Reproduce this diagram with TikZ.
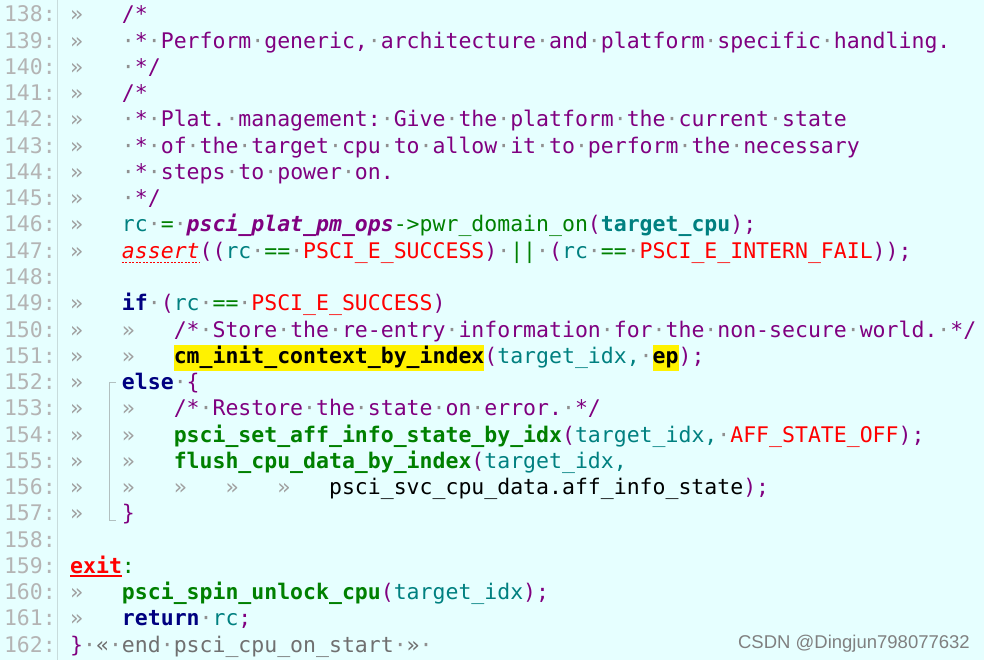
\documentclass[tikz,border=0pt]{standalone}
\usepackage{fontspec}
\setmonofont{DejaVu Sans Mono}
\newfontfamily\wmfont{Liberation Sans}
\definecolor{bgc}{HTML}{E6FFFF}
\definecolor{cmt}{HTML}{800080}
\definecolor{idc}{HTML}{008080}
\definecolor{fnc}{HTML}{008000}
\definecolor{kwc}{HTML}{000080}
\definecolor{csc}{HTML}{FF0000}
\definecolor{dotc}{HTML}{909090}
\definecolor{tabc}{HTML}{A0A0A0}
\definecolor{numc}{HTML}{B4B4B4}
\definecolor{foldc}{HTML}{707070}
\definecolor{gutc}{HTML}{C8DCDC}
\newcommand\Sq{\hphantom{0}}
\newcommand\D{{\color{dotc}·}}
\newcommand\T{{\color{tabc}»}\Sq\Sq\Sq}
\newcommand\cm[1]{{\color{cmt}#1}}
\newcommand\id[1]{{\color{idc}#1}}
\newcommand\op[1]{{\color{fnc}#1}}
\newcommand\fn[1]{{\color{fnc}\bfseries #1}}
\newcommand\kw[1]{{\color{kwc}\bfseries #1}}
\newcommand\cs[1]{{\color{csc}#1}}
\newcommand\pp[1]{{\color{cmt}#1}}
\newcommand\hl[1]{{\setlength\fboxsep{0pt}\colorbox{yellow}{\strut #1}}}
\newcommand\Ln[2]{\node[code] (l#1) at (70,{22+26.25*(#1-138)}) {#2};}
\begin{document}
\begin{tikzpicture}[x=1pt,y=-1pt,
  code/.style={anchor=base west,inner sep=0pt,font=\ttfamily\fontsize{21.5}{25.8}\selectfont},
  lnum/.style={anchor=base east,inner sep=0pt,text=numc,font=\ttfamily\fontsize{21.5}{25.8}\selectfont}]
\fill[bgc] (0,0) rectangle (984,660);
\useasboundingbox (0,0) rectangle (984,660);
\draw[gutc,line width=1pt] (57,0) -- (57,660);
\foreach \n [count=\i from 0] in {138,...,162}{
  \node[lnum] (n\n) at (56,{22+26.25*\i}) {\n:};
}
\Ln{138}{\T\cm{/*}}
\Ln{139}{\T\cm{\D*\D Perform\D generic,\D architecture\D and\D platform\D specific\D handling.}}
\Ln{140}{\T\cm{\D*/}}
\Ln{141}{\T\cm{/*}}
\Ln{142}{\T\cm{\D*\D Plat.\D management:\D Give\D the\D platform\D the\D current\D state}}
\Ln{143}{\T\cm{\D*\D of\D the\D target\D cpu\D to\D allow\D it\D to\D perform\D the\D necessary}}
\Ln{144}{\T\cm{\D*\D steps\D to\D power\D on.}}
\Ln{145}{\T\cm{\D*/}}
\Ln{146}{\T\id{rc}\D\op{=}\D{\color{cmt}\bfseries\itshape psci\_plat\_pm\_ops}\op{->pwr\_domain\_on}\pp{(}{\color{idc}\bfseries target\_cpu}\pp{);}}
\Ln{147}{\T{\color{csc}\itshape assert}\pp{((}\id{rc}\D\op{==}\D\cs{PSCI\_E\_SUCCESS}\pp{)}\D\op{||}\D\pp{(}\id{rc}\D\op{==}\D\cs{PSCI\_E\_INTERN\_FAIL}\pp{));}}
\Ln{149}{\T\kw{if}\D\pp{(}\id{rc}\D\op{==}\D\cs{PSCI\_E\_SUCCESS}\pp{)}}
\Ln{150}{\T\T\cm{/*\D Store\D the\D re-entry\D information\D for\D the\D non-secure\D world.\D */}}
\Ln{151}{\T\T\hl{\bfseries cm\_init\_context\_by\_index}\pp{(}\id{target\_idx,}\D\hl{\bfseries ep}\pp{);}}
\Ln{152}{\T\kw{else}\D\pp{\{}}
\Ln{153}{\T\T\cm{/*\D Restore\D the\D state\D on\D error.\D */}}
\Ln{154}{\T\T\fn{psci\_set\_aff\_info\_state\_by\_idx}\pp{(}\id{target\_idx,}\D\cs{AFF\_STATE\_OFF}\pp{);}}
\Ln{155}{\T\T\fn{flush\_cpu\_data\_by\_index}\pp{(}\id{target\_idx,}}
\Ln{156}{\T\T\T\T\T psci\_svc\_cpu\_data.aff\_info\_state\pp{);}}
\Ln{157}{\T\pp{\}}}
\Ln{159}{{\color{csc}\bfseries exit}\op{:}}
\Ln{160}{\T\fn{psci\_spin\_unlock\_cpu}\pp{(}\id{target\_idx}\pp{);}}
\Ln{161}{\T\kw{return}\D\id{rc}\pp{;}}
\Ln{162}{\pp{\}}\D{\color{foldc}«\D end\D psci\_cpu\_on\_start\D»\D}}
% underlines
\draw[csc,line width=1.6pt] (70,576) -- (121.6,576);
\draw[csc,line width=0.8pt,dash pattern=on 2pt off 1.5pt] (121.6,262) -- (199,262);
% fold bracket
\draw[gutc!70!gray,line width=0.8pt] (116,382) -- (109,382) -- (109,520) -- (116,520);
\node[anchor=base east,inner sep=0pt,text=gray,font=\wmfont\fontsize{18.5}{21}\selectfont] (wm) at (970,648) {CSDN @Dingjun798077632};
\end{tikzpicture}
\end{document}
